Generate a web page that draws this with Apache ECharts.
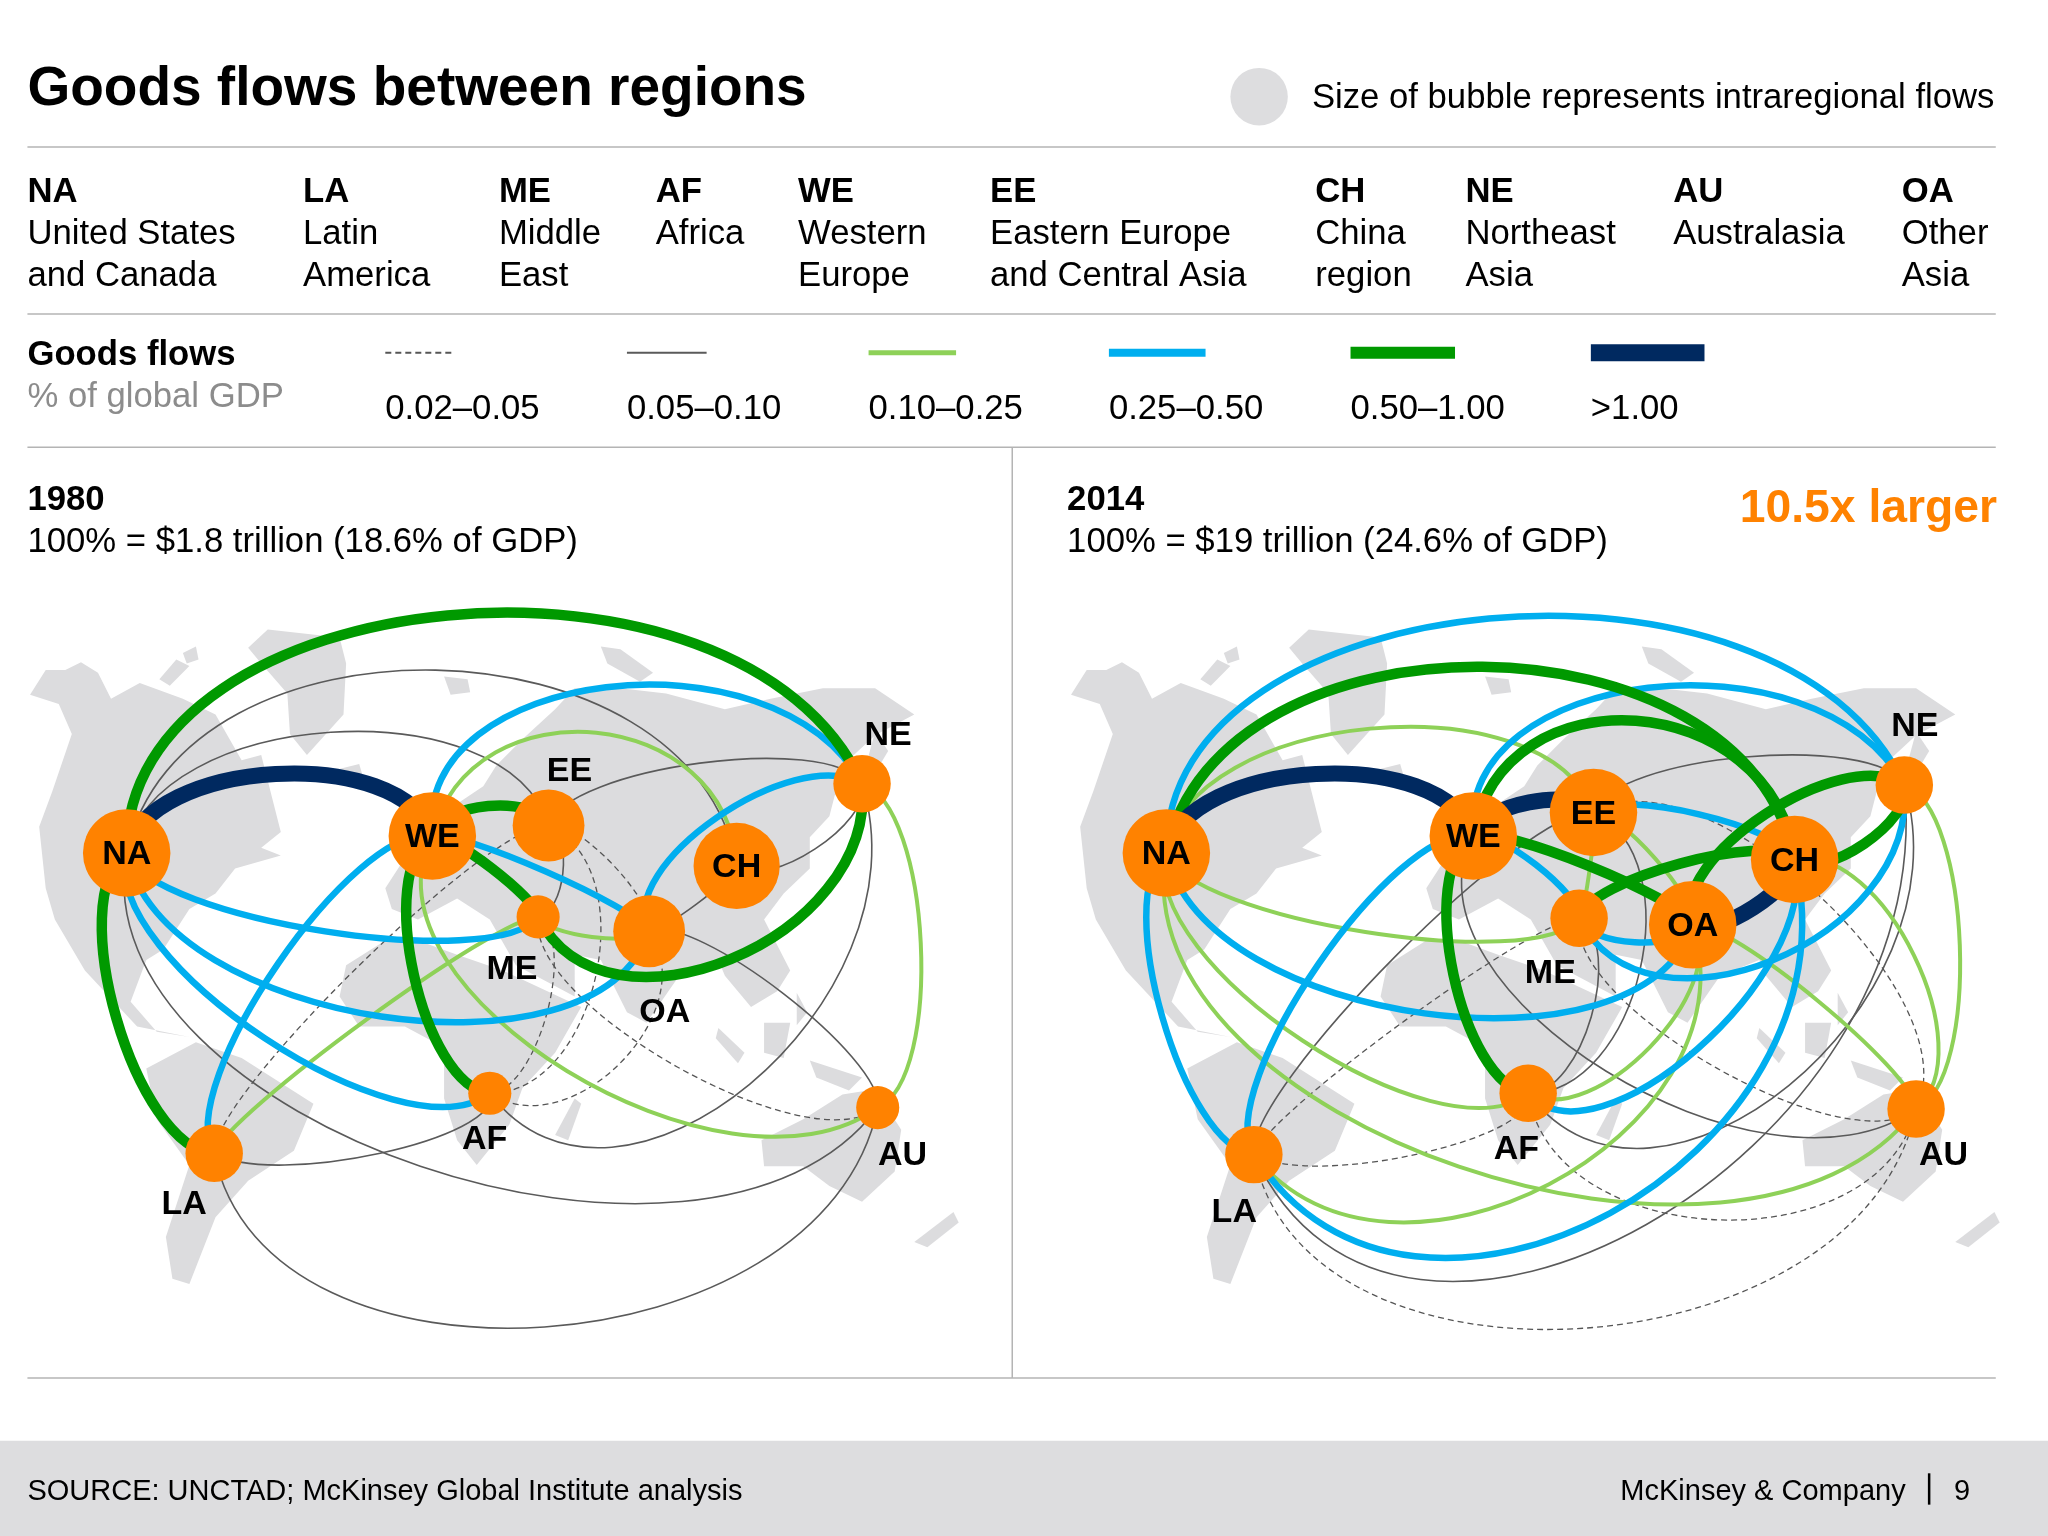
<!DOCTYPE html>
<html>
<head>
<meta charset="utf-8">
<title>Goods flows between regions</title>
<script src="https://cdn.jsdelivr.net/npm/echarts@6/dist/echarts.min.js"></script>
<style>
html, body { margin: 0; padding: 0; background: #fff; }
#main { width: 2048px; height: 1536px; }
</style>
</head>
<body>
<div id="main"></div>
<script>
// region table
var regionCodes = ['NA', 'LA', 'ME', 'AF', 'WE', 'EE', 'CH', 'NE', 'AU', 'OA'];
var regionLine1 = ['United States', 'Latin', 'Middle', 'Africa', 'Western', 'Eastern Europe', 'China', 'Northeast', 'Australasia', 'Other'];
var regionLine2 = ['and Canada', 'America', 'East', '', 'Europe', 'and Central Asia', 'region', 'Asia', '', 'Asia'];

// band labels, thinnest first
var bandLabels = ['0.02–0.05', '0.05–0.10', '0.10–0.25', '0.25–0.50', '0.50–1.00', '>1.00'];

// bubbles: centre on the map and diameter, in the picture's own units
var x1980 = [97, 164, 412, 375, 331, 420, 564, 660, 672, 497];
var y1980 = [653, 883, 702, 837, 640, 632, 663, 600, 848, 713];
var size1980 = [67, 44, 33, 33, 67, 55, 66, 44, 33, 55];
var x2014 = [893, 960, 1209, 1170, 1128, 1220, 1374, 1458, 1467, 1296];
var y2014 = [653, 884, 703, 837, 640, 622, 658, 601, 849, 708];
var size2014 = [67, 44, 44, 44, 67, 67, 67, 44, 44, 67];

// flows: from, to, band (0 thinnest .. 5 thickest), swing off the straight line, lean along it
var flows1980 = [
  ['LA', 'EE', 0, 25], ['EE', 'OA', 0, 15], ['EE', 'AF', 0, 60], ['ME', 'AF', 0, 26], ['ME', 'AU', 0, -48], ['OA', 'AF', 0, 55],
  ['NA', 'CH', 1, 145], ['NA', 'EE', 1, 82], ['EE', 'NE', 1, 32], ['CH', 'NE', 1, -22], ['OA', 'CH', 1, -5], ['ME', 'EE', 1, -15],
  ['NA', 'AU', 1, -155, -0.03], ['LA', 'AF', 1, -27, 0.1], ['LA', 'AU', 1, -150, -0.03], ['AF', 'NE', 1, -122, -0.1], ['OA', 'AU', 1, 25],
  ['WE', 'CH', 2, 91], ['NE', 'AU', 2, 39], ['LA', 'ME', 2, 14], ['ME', 'OA', 2, -10], ['WE', 'AU', 2, -100, -0.06],
  ['NA', 'ME', 3, -36], ['NA', 'OA', 3, -95, 0.03], ['NA', 'AF', 3, -60], ['LA', 'WE', 3, 42], ['WE', 'OA', 3, 10], ['WE', 'NE', 3, 97, -0.08], ['OA', 'NE', 3, 42, -0.05],
  ['NA', 'NE', 4, 158, -0.05], ['NA', 'LA', 4, -43], ['WE', 'EE', 4, 19], ['WE', 'AF', 4, -37], ['WE', 'ME', 4, 8], ['ME', 'NE', 4, -86, -0.05],
  ['NA', 'WE', 5, 54]
];
var flows2014 = [
  ['LA', 'ME', 0, 15], ['LA', 'AF', 0, -27, 0.1], ['LA', 'AU', 0, -150, -0.03], ['AF', 'AU', 0, -91], ['ME', 'AU', 0, -48], ['EE', 'AU', 0, 70],
  ['EE', 'NE', 1, 32], ['WE', 'AU', 1, -100, -0.06], ['LA', 'EE', 1, 30], ['ME', 'AF', 1, 30], ['EE', 'AF', 1, 62], ['AF', 'NE', 1, -122, -0.1], ['LA', 'NE', 1, -195, -0.12],
  ['NA', 'EE', 2, 80], ['NA', 'ME', 2, -36], ['NA', 'AF', 2, -62], ['NA', 'AU', 2, -155, -0.03], ['LA', 'OA', 2, -125], ['EE', 'ME', 2, 3],
  ['EE', 'OA', 2, 12], ['AF', 'OA', 2, -42], ['OA', 'AU', 2, 16], ['CH', 'AU', 2, 50], ['NE', 'AU', 2, 38],
  ['NA', 'NE', 3, 156, -0.05], ['WE', 'NE', 3, 97, -0.08], ['NA', 'LA', 3, -38], ['NA', 'OA', 3, -95, 0.03], ['LA', 'WE', 3, 42], ['LA', 'CH', 3, -170, -0.05],
  ['AF', 'CH', 3, -60, -0.08], ['WE', 'ME', 3, 12], ['ME', 'OA', 3, -16], ['ME', 'NE', 3, -86, -0.05], ['EE', 'CH', 3, 17],
  ['NA', 'CH', 4, 145], ['WE', 'CH', 4, 97, -0.03], ['OA', 'NE', 4, 40, -0.03], ['ME', 'CH', 4, 20], ['WE', 'OA', 4, 12], ['WE', 'AF', 4, -37], ['CH', 'NE', 4, -20],
  ['NA', 'WE', 5, 54], ['WE', 'EE', 5, 17], ['OA', 'CH', 5, -14]
];

// grey land behind the 1980 arcs, the 2014 map is the same one moved across
var landOutlines = [
  [[23,532],[35,513],[50,513],[62,507],[75,515],[85,535],[107,523],[140,535],[165,547],[185,582],[200,578],[215,637],[200,649],[215,655],[180,665],[165,684],[145,696],[125,727],[112,735],[100,767],[120,790],[145,794],[105,786],[65,743],[42,704],[35,680],[30,633],[40,606],[55,562],[45,539]],
  [[190,496],[205,482],[260,488],[265,508],[263,547],[235,578],[222,562],[220,531],[200,508]],
  [[122,520],[135,505],[145,510],[130,525]],
  [[140,500],[150,495],[152,505],[143,508]],
  [[255,590],[275,585],[278,595],[262,600]],
  [[112,818],[150,798],[185,810],[240,845],[225,881],[190,904],[165,932],[145,983],[132,979],[127,947],[145,892],[120,857]],
  [[265,739],[295,720],[320,720],[350,731],[385,743],[445,771],[425,806],[400,833],[390,861],[365,892],[350,873],[340,841],[340,802],[310,786],[275,786],[260,763]],
  [[425,869],[440,841],[445,845],[435,873]],
  [[295,680],[310,657],[340,622],[370,602],[380,586],[400,566],[425,543],[440,527],[475,527],[510,531],[555,543],[590,535],[630,527],[670,527],[700,547],[670,563],[645,586],[635,625],[620,641],[620,665],[600,684],[585,704],[605,743],[595,759],[575,771],[555,747],[550,735],[520,747],[495,783],[480,775],[460,735],[440,731],[440,763],[395,739],[375,704],[350,688],[320,704],[300,696]],
  [[460,495],[475,497],[500,515],[490,522],[465,508]],
  [[340,518],[358,520],[360,530],[345,532]],
  [[550,787],[570,806],[565,814],[548,795]],
  [[585,783],[605,783],[600,810],[585,806]],
  [[620,812],[660,825],[650,835],[625,825]],
  [[610,760],[618,775],[610,785]],
  [[670,560],[680,575],[665,600],[662,590]],
  [[583,873],[615,857],[645,838],[670,834],[690,865],[685,897],[660,920],[635,908],[615,893],[585,893]],
  [[700,951],[730,928],[734,936],[710,955]]
];

// styles
var S = 2048 / 1568;
var FONT = '"Liberation Sans", Arial, sans-serif';
var BODY = 34.7;
var SHOULDER = 0.08;
var bandColors = ['#555555', '#5a5a5a', '#8ed158', '#00aeef', '#009900', '#002960'];
var arcWidths = [1.3, 1.6, 4, 6.5, 10.5, 16];
var swatchWidths = [2, 2, 5, 8, 12, 17];
var swatchX = [295, 480, 665, 849, 1034, 1218];
var swatchEnd = [347, 541, 732, 923, 1114, 1305];
var headerX = [21, 232, 382, 502, 611, 758, 1007, 1122, 1281, 1456];
// label shifts from the bubble centre, regions not listed sit inside their bubble
var labelShift1980 = { EE: [16, -43], NE: [20, -38], OA: [12, 61], ME: [-20, 39], AF: [-4, 34], AU: [19, 35], LA: [-23, 38] };
var labelShift2014 = { ME: [-22, 41], NE: [8, -46], AF: [-9, 42], AU: [21, 34], LA: [-15, 43] };

function text(x, y, str, size, opts) {
  opts = opts || {};
  return {
    type: 'text', x: x * S, y: (y + 1.5) * S, silent: true,
    style: {
      text: str, fill: opts.color || '#000',
      font: (opts.bold ? 'bold ' : '') + size + 'px ' + FONT,
      textAlign: opts.align || 'left', verticalAlign: 'middle'
    }
  };
}
function rule(x1, y1, x2, y2, color, width, dash) {
  return {
    type: 'line', silent: true,
    shape: { x1: x1 * S, y1: y1 * S, x2: x2 * S, y2: y2 * S },
    style: { stroke: color, lineWidth: width, lineDash: dash || null }
  };
}

var page = [
  { type: 'rect', silent: true, shape: { x: 0, y: 1103 * S, width: 2048, height: 73 * S }, style: { fill: '#dddddf' } },
  text(21, 67, 'Goods flows between regions', 55, { bold: true }),
  { type: 'circle', silent: true, shape: { cx: 964 * S, cy: 74 * S, r: 22 * S }, style: { fill: '#dddddf' } },
  text(1527, 74, 'Size of bubble represents intraregional flows', BODY, { align: 'right' }),
  rule(21, 112.5, 1528, 112.5, '#b4b4b4', 1.5),
  rule(21, 240.5, 1528, 240.5, '#b4b4b4', 1.5),
  rule(21, 342.5, 1528, 342.5, '#b4b4b4', 1.5),
  rule(21, 1055, 1528, 1055, '#b4b4b4', 1.5),
  rule(775, 342.5, 775, 1055, '#b4b4b4', 1.5),
  text(21, 271, 'Goods flows', BODY, { bold: true }),
  text(21, 303, '% of global GDP', BODY, { color: '#8c8c8c' }),
  text(21, 382, '1980', BODY, { bold: true }),
  text(21, 414, '100% = $1.8 trillion (18.6% of GDP)', BODY),
  text(817, 382, '2014', BODY, { bold: true }),
  text(817, 414, '100% = $19 trillion (24.6% of GDP)', BODY),
  text(1529, 388, '10.5x larger', 46.3, { bold: true, color: '#ff8200', align: 'right' }),
  text(21, 1141, 'SOURCE: UNCTAD; McKinsey Global Institute analysis', 29),
  text(1459, 1141, 'McKinsey & Company', 29, { align: 'right' }),
  rule(1477, 1128, 1477, 1152, '#000', 2.5),
  text(1496, 1141, '9', 29)
];
regionCodes.forEach(function (code, i) {
  page.push(text(headerX[i], 146, code, BODY, { bold: true }));
  page.push(text(headerX[i], 178, regionLine1[i], BODY));
  if (regionLine2[i]) page.push(text(headerX[i], 210, regionLine2[i], BODY));
});
bandLabels.forEach(function (label, i) {
  page.push(rule(swatchX[i], 270, swatchEnd[i], 270, bandColors[i], swatchWidths[i], i === 0 ? [6, 4] : null));
  page.push(text(swatchX[i], 312, label, BODY));
});

function renderLand(shift) {
  return function (params, api) {
    var pts = landOutlines[params.dataIndex].map(function (p) {
      return api.coord([p[0] + shift, p[1]]);
    });
    return { type: 'polygon', shape: { points: pts }, style: { fill: '#dcdcde' }, silent: true };
  };
}

// each arc is a cubic running between two bubbles through the axes
function renderFlow(params, api) {
  var x0 = api.value(0), y0 = api.value(1), x3 = api.value(2), y3 = api.value(3);
  var band = api.value(4), bend = api.value(5), lean = api.value(6);
  var dx = x3 - x0, dy = y3 - y0, len = Math.sqrt(dx * dx + dy * dy);
  var nx = dy / len * bend / 0.75, ny = -dx / len * bend / 0.75;
  var t1 = SHOULDER + lean, t2 = 1 - SHOULDER + lean;
  var a = api.coord([x0, y0]), d = api.coord([x3, y3]);
  var b = api.coord([x0 + t1 * dx + nx, y0 + t1 * dy + ny]);
  var c = api.coord([x0 + t2 * dx + nx, y0 + t2 * dy + ny]);
  return {
    type: 'bezierCurve', silent: true,
    shape: { x1: a[0], y1: a[1], x2: d[0], y2: d[1], cpx1: b[0], cpy1: b[1], cpx2: c[0], cpy2: c[1] },
    style: { fill: 'none', stroke: bandColors[band], lineWidth: arcWidths[band], lineDash: band === 0 ? [6, 4] : null }
  };
}

function flowData(flows, xs, ys) {
  return flows.map(function (f) {
    var a = regionCodes.indexOf(f[0]), b = regionCodes.indexOf(f[1]);
    return [xs[a], ys[a], xs[b], ys[b], f[2], f[3], f[4] || 0];
  });
}

function bubbleData(xs, ys, sizes, shifts) {
  return regionCodes.map(function (code, i) {
    var shift = shifts[code] || [0, 0];
    return {
      name: code, value: [xs[i], ys[i], sizes[i]],
      label: { offset: [shift[0] * S, (shift[1] + 1.5) * S] }
    };
  });
}

function landSeries(shift) {
  return {
    type: 'custom', coordinateSystem: 'cartesian2d', clip: false, z: 1, silent: true,
    renderItem: renderLand(shift), data: landOutlines.map(function (o, i) { return [i]; }),
    encode: { x: -1, y: -1 }
  };
}
function flowSeries(flows, xs, ys) {
  return {
    type: 'custom', coordinateSystem: 'cartesian2d', clip: false, z: 2, silent: true,
    renderItem: renderFlow, data: flowData(flows, xs, ys),
    encode: { x: [0, 2], y: [1, 3] }
  };
}
function bubbleSeries(xs, ys, sizes, shifts) {
  return {
    type: 'scatter', coordinateSystem: 'cartesian2d', z: 3, silent: true,
    symbolSize: function (v) { return v[2] * S; },
    itemStyle: { color: '#ff8200', opacity: 1 },
    label: {
      show: true, position: 'inside', formatter: '{b}', color: '#000',
      fontFamily: FONT, fontWeight: 'bold', fontSize: 34
    },
    data: bubbleData(xs, ys, sizes, shifts)
  };
}

var myChart = echarts.init(document.getElementById('main'), null, { renderer: 'canvas' });
myChart.setOption({
  animation: false,
  backgroundColor: '#fff',
  grid: { left: 0, right: 0, top: 0, bottom: 0 },
  xAxis: { type: 'value', min: 0, max: 1568, show: false },
  yAxis: { type: 'value', min: 0, max: 1176, inverse: true, show: false },
  graphic: page,
  series: [
    landSeries(0),
    landSeries(797),
    flowSeries(flows1980, x1980, y1980),
    flowSeries(flows2014, x2014, y2014),
    bubbleSeries(x1980, y1980, size1980, labelShift1980),
    bubbleSeries(x2014, y2014, size2014, labelShift2014)
  ]
});
</script>
</body>
</html>
